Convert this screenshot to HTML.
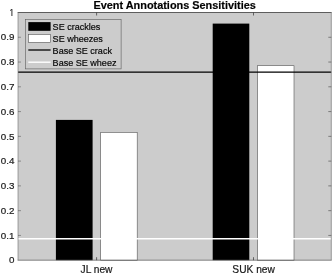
<!DOCTYPE html>
<html><head><meta charset="utf-8"><title>Event Annotations Sensitivities</title>
<style>
html,body{margin:0;padding:0;background:#fff;}
svg{display:block;}
text{font-family:"Liberation Sans",sans-serif;fill:#1a1a1a;stroke:#1a1a1a;stroke-width:0.2px;}
.t{font-size:10.2px;}
.ty{font-size:9.8px;}
.one{font-family:"NanumGothic","Liberation Sans",sans-serif;font-size:9.4px;}
.ti{font-size:10.9px;font-weight:bold;fill:#000;}
.l{font-size:9.05px;fill:#000;}
</style></head><body>
<svg width="335" height="276" viewBox="0 0 335 276">
<defs><filter id="bl" x="0" y="0" width="335" height="276" filterUnits="userSpaceOnUse"><feGaussianBlur stdDeviation="0.45"/></filter></defs>
<rect x="0" y="0" width="335" height="276" fill="#fff"/>
<g filter="url(#bl)">
<rect x="-5" y="-5" width="345" height="286" fill="#fff"/>
<rect x="18.0" y="12.5" width="313.3" height="247.7" fill="#cccccc"/>
<rect x="55.90" y="119.90" width="36.70" height="140.30" fill="#000"/>
<rect x="100.70" y="132.40" width="36.50" height="127.80" fill="#fff" stroke="#555" stroke-width="0.6"/>
<rect x="212.70" y="23.60" width="36.60" height="236.60" fill="#000"/>
<rect x="257.60" y="65.70" width="36.40" height="194.50" fill="#fff" stroke="#555" stroke-width="0.6"/>
<line x1="18.0" x2="331.3" y1="72.05" y2="72.05" stroke="#000" stroke-width="1.35"/>
<line x1="18.0" x2="331.3" y1="238.7" y2="238.7" stroke="#fff" stroke-width="1.4"/>
<line x1="17.65" x2="331.65000000000003" y1="12.5" y2="12.5" stroke="#3a3a3a" stroke-width="0.8"/>
<line x1="17.65" x2="331.65000000000003" y1="260.2" y2="260.2" stroke="#555" stroke-width="0.7"/>
<line x1="18.0" x2="18.0" y1="12.5" y2="260.2" stroke="#777" stroke-width="0.65"/>
<line x1="331.3" x2="331.3" y1="12.5" y2="260.2" stroke="#777" stroke-width="0.7"/>
<text x="14.4" y="263.40" text-anchor="end" class="ty">0</text>
<line x1="18.0" x2="21.0" y1="235.43" y2="235.43" stroke="#555" stroke-width="0.55"/>
<line x1="331.3" x2="328.3" y1="235.43" y2="235.43" stroke="#444" stroke-width="0.6"/>
<text x="14.4" y="238.63" text-anchor="end" class="ty">0.1</text>
<line x1="18.0" x2="21.0" y1="210.66" y2="210.66" stroke="#555" stroke-width="0.55"/>
<line x1="331.3" x2="328.3" y1="210.66" y2="210.66" stroke="#444" stroke-width="0.6"/>
<text x="14.4" y="213.86" text-anchor="end" class="ty">0.2</text>
<line x1="18.0" x2="21.0" y1="185.89" y2="185.89" stroke="#555" stroke-width="0.55"/>
<line x1="331.3" x2="328.3" y1="185.89" y2="185.89" stroke="#444" stroke-width="0.6"/>
<text x="14.4" y="189.09" text-anchor="end" class="ty">0.3</text>
<line x1="18.0" x2="21.0" y1="161.12" y2="161.12" stroke="#555" stroke-width="0.55"/>
<line x1="331.3" x2="328.3" y1="161.12" y2="161.12" stroke="#444" stroke-width="0.6"/>
<text x="14.4" y="164.32" text-anchor="end" class="ty">0.4</text>
<line x1="18.0" x2="21.0" y1="136.35" y2="136.35" stroke="#555" stroke-width="0.55"/>
<line x1="331.3" x2="328.3" y1="136.35" y2="136.35" stroke="#444" stroke-width="0.6"/>
<text x="14.4" y="139.55" text-anchor="end" class="ty">0.5</text>
<line x1="18.0" x2="21.0" y1="111.58" y2="111.58" stroke="#555" stroke-width="0.55"/>
<line x1="331.3" x2="328.3" y1="111.58" y2="111.58" stroke="#444" stroke-width="0.6"/>
<text x="14.4" y="114.78" text-anchor="end" class="ty">0.6</text>
<line x1="18.0" x2="21.0" y1="86.81" y2="86.81" stroke="#555" stroke-width="0.55"/>
<line x1="331.3" x2="328.3" y1="86.81" y2="86.81" stroke="#444" stroke-width="0.6"/>
<text x="14.4" y="90.01" text-anchor="end" class="ty">0.7</text>
<line x1="18.0" x2="21.0" y1="62.04" y2="62.04" stroke="#555" stroke-width="0.55"/>
<line x1="331.3" x2="328.3" y1="62.04" y2="62.04" stroke="#444" stroke-width="0.6"/>
<text x="14.4" y="65.24" text-anchor="end" class="ty">0.8</text>
<line x1="18.0" x2="21.0" y1="37.27" y2="37.27" stroke="#555" stroke-width="0.55"/>
<line x1="331.3" x2="328.3" y1="37.27" y2="37.27" stroke="#444" stroke-width="0.6"/>
<text x="14.4" y="40.47" text-anchor="end" class="ty">0.9</text>
<text x="14.4" y="15.70" text-anchor="end" class="ty one">1</text>
<line x1="96.60" x2="96.60" y1="260.2" y2="257.2" stroke="#333" stroke-width="0.7"/>
<line x1="96.60" x2="96.60" y1="12.5" y2="15.5" stroke="#333" stroke-width="0.7"/>
<line x1="253.50" x2="253.50" y1="260.2" y2="257.2" stroke="#333" stroke-width="0.7"/>
<line x1="253.50" x2="253.50" y1="12.5" y2="15.5" stroke="#333" stroke-width="0.7"/>
<text x="96.5" y="272.9" text-anchor="middle" class="t">JL new</text>
<text x="253.6" y="272.9" text-anchor="middle" class="t">SUK new</text>
<text x="174.65" y="8.8" text-anchor="middle" class="ti">Event Annotations Sensitivities</text>
<rect x="25.3" y="19.3" width="95.8" height="49.60000000000001" fill="#cccccc" stroke="#5a5a5a" stroke-width="0.6"/>
<rect x="28.3" y="22.1" width="22.3" height="8.7" fill="#000"/>
<rect x="28.5" y="34.4" width="22.0" height="8.0" fill="#fff" stroke="#555" stroke-width="0.6"/>
<line x1="28.3" x2="50.6" y1="50.0" y2="50.0" stroke="#000" stroke-width="1.3"/>
<line x1="28.3" x2="50.6" y1="62.2" y2="62.2" stroke="#fff" stroke-width="1.4"/>
<text x="52.6" y="29.8" class="l">SE crackles</text>
<text x="52.6" y="41.8" class="l">SE wheezes</text>
<text x="52.6" y="53.7" class="l">Base SE crack</text>
<text x="52.6" y="65.7" class="l">Base SE wheez</text>
</g>
</svg>
</body></html>
